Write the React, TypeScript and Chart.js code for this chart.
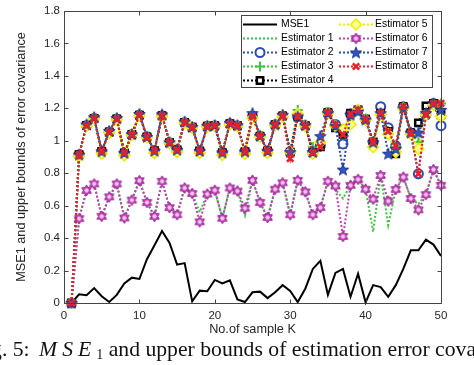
import React, { useEffect, useRef } from 'react';
import { Chart, registerables } from 'chart.js';
import { drawPoint } from 'chart.js/helpers';

Chart.register(...registerables);

// ---------------- data ----------------
const sampleK = [1, 2, 3, 4, 5, 6, 7, 8, 9, 10, 11, 12, 13, 14, 15, 16, 17, 18, 19, 20, 21, 22, 23, 24, 25, 26, 27, 28, 29, 30, 31, 32, 33, 34, 35, 36, 37, 38, 39, 40, 41, 42, 43, 44, 45, 46, 47, 48, 49, 50];

const mse1 = [0, 0.054, 0.048, 0.092, 0.042, 0.006, 0.05, 0.12, 0.156, 0.148, 0.27, 0.356, 0.444, 0.37, 0.236, 0.246, 0.01, 0.076, 0.072, 0.142, 0.12, 0.14, 0.022, 0.006, 0.066, 0.07, 0.03, 0.066, 0.11, 0.075, 0.006, 0.088, 0.21, 0.26, 0.05, 0.185, 0.21, 0.038, 0.18, 0.004, 0.11, 0.098, 0.038, 0.11, 0.21, 0.325, 0.325, 0.39, 0.36, 0.29];

const estimator1 = [0, 0.52, 0.694, 0.734, 0.534, 0.654, 0.734, 0.524, 0.634, 0.754, 0.62, 0.534, 0.75, 0.588, 0.544, 0.709, 0.675, 0.56, 0.671, 0.695, 0.522, 0.709, 0.69, 0.54, 0.756, 0.62, 0.527, 0.701, 0.741, 0.544, 0.756, 0.685, 0.544, 0.588, 0.75, 0.7, 0.644, 0.725, 0.762, 0.701, 0.44, 0.786, 0.48, 0.7, 0.776, 0.644, 0.61, 0.668, 0.822, 0.725];

const estimator2 = [0, 0.914, 1.094, 1.138, 0.934, 1.054, 1.134, 0.924, 1.038, 1.158, 1.024, 0.938, 1.154, 0.988, 0.944, 1.113, 1.083, 0.937, 1.089, 1.093, 0.927, 1.105, 1.093, 0.933, 1.15, 1.028, 0.937, 1.099, 1.153, 0.93, 1.15, 1.093, 0.927, 0.97, 1.174, 1.1, 0.98, 1.165, 1.19, 1.133, 0.992, 1.21, 1.08, 0.968, 1.21, 1.048, 0.796, 1.16, 1.23, 1.093];

const estimator3 = [0, 0.914, 1.094, 1.138, 0.934, 1.054, 1.134, 0.924, 1.038, 1.158, 1.024, 0.938, 1.154, 0.988, 0.944, 1.113, 1.083, 0.937, 1.089, 1.093, 0.927, 1.105, 1.093, 0.933, 1.15, 1.028, 0.937, 1.099, 1.153, 0.93, 1.19, 1.093, 0.96, 0.962, 1.174, 1.1, 1.038, 1.165, 1.19, 1.133, 0.992, 1.17, 1.058, 0.968, 1.21, 1.048, 0.99, 1.16, 1.23, 1.23];

const estimator4 = [0, 0.914, 1.094, 1.138, 0.934, 1.054, 1.134, 0.924, 1.038, 1.158, 1.024, 0.938, 1.154, 0.988, 0.944, 1.113, 1.083, 0.937, 1.089, 1.093, 0.927, 1.105, 1.093, 0.933, 1.15, 1.028, 0.937, 1.099, 1.153, 0.93, 1.15, 1.093, 0.927, 0.962, 1.174, 1.08, 1.04, 1.17, 1.19, 1.133, 0.992, 1.17, 1.058, 0.92, 1.21, 1.048, 1.11, 1.214, 1.23, 1.16];

const estimator5 = [0, 0.905, 1.09, 1.135, 0.92, 1.05, 1.13, 0.91, 1.035, 1.155, 1.02, 0.925, 1.15, 0.985, 0.93, 1.11, 1.08, 0.925, 1.085, 1.09, 0.912, 1.1, 1.09, 0.918, 1.14, 1.025, 0.925, 1.095, 1.15, 0.93, 1.165, 1.09, 0.92, 0.99, 1.17, 1.09, 1.07, 1.1, 1.19, 1.13, 0.96, 1.16, 1.04, 0.93, 1.2, 1.04, 0.95, 1.16, 1.22, 1.15];

const estimator6 = [0, 0.52, 0.694, 0.734, 0.534, 0.654, 0.734, 0.524, 0.634, 0.754, 0.62, 0.534, 0.75, 0.588, 0.544, 0.709, 0.675, 0.5, 0.671, 0.695, 0.522, 0.709, 0.69, 0.584, 0.756, 0.62, 0.527, 0.701, 0.741, 0.544, 0.756, 0.685, 0.544, 0.588, 0.75, 0.721, 0.41, 0.725, 0.762, 0.701, 0.64, 0.786, 0.628, 0.7, 0.776, 0.644, 0.574, 0.668, 0.822, 0.725];

const estimator7 = [0, 0.914, 1.1, 1.145, 0.934, 1.06, 1.14, 0.924, 1.04, 1.165, 1.024, 0.938, 1.162, 0.99, 0.944, 1.118, 1.085, 0.937, 1.092, 1.096, 0.927, 1.11, 1.095, 0.933, 1.17, 1.03, 0.937, 1.1, 1.16, 0.93, 1.15, 1.095, 0.93, 1.028, 1.17, 1.09, 0.822, 1.16, 1.18, 1.13, 0.99, 1.17, 0.92, 0.95, 1.2, 1.05, 1.05, 1.17, 1.23, 1.19];

const estimator8 = [0, 0.914, 1.094, 1.138, 0.934, 1.054, 1.134, 0.924, 1.038, 1.158, 1.024, 0.938, 1.154, 0.988, 0.944, 1.113, 1.083, 0.937, 1.089, 1.093, 0.927, 1.105, 1.093, 0.933, 1.15, 1.028, 0.937, 1.099, 1.153, 0.89, 1.15, 1.093, 0.927, 0.962, 1.174, 1.1, 1.038, 1.165, 1.19, 1.133, 0.992, 1.17, 1.058, 0.968, 1.21, 1.048, 0.796, 1.16, 1.23, 1.23];

const xTicks = [0, 10, 20, 30, 40, 50];
const yTicks = [0, 0.2, 0.4, 0.6, 0.8, 1, 1.2, 1.4, 1.6, 1.8];

const seriesLabels = ['MSE1', 'Estimator 1', 'Estimator 2', 'Estimator 3', 'Estimator 4', 'Estimator 5', 'Estimator 6', 'Estimator 7', 'Estimator 8'];

// ---------------- styles ----------------
const GREEN = '#3cc23c';
const BLUE = '#2a4cb4';
const YELLOW = '#eeee00';
const MAGENTA = '#c040b8';
const RED = '#e8202a';
const AXIS = '#444444';
const TEXT = '#262626';
const SANS = '"Liberation Sans", Arial, Helvetica, sans-serif';

function makeStar(size: number, fill: string, stroke: string) {
  const c = document.createElement('canvas');
  c.width = size; c.height = size;
  const g = c.getContext('2d')!;
  const cx = size / 2, cy = size / 2 + 0.5;
  const R = size / 2 - 1, r = R * 0.42;
  g.beginPath();
  for (let i = 0; i < 10; i++) {
    const a = -Math.PI / 2 + i * Math.PI / 5;
    const rr = i % 2 === 0 ? R : r;
    g.lineTo(cx + rr * Math.cos(a), cy + rr * Math.sin(a));
  }
  g.closePath();
  g.fillStyle = fill; g.fill();
  g.strokeStyle = stroke; g.lineWidth = 1; g.stroke();
  return c;
}

function makeHexagram(size: number, fill: string, stroke: string, inner: string) {
  const c = document.createElement('canvas');
  c.width = size; c.height = size;
  const g = c.getContext('2d')!;
  const cx = size / 2, cy = size / 2;
  const R = size / 2 - 1, r = R / Math.sqrt(3);
  g.beginPath();
  for (let i = 0; i < 12; i++) {
    const a = -Math.PI / 2 + i * Math.PI / 6;
    const rr = i % 2 === 0 ? R : r;
    g.lineTo(cx + rr * Math.cos(a), cy + rr * Math.sin(a));
  }
  g.closePath();
  g.fillStyle = fill; g.fill();
  g.strokeStyle = stroke; g.lineWidth = 1; g.stroke();
  g.beginPath();
  const ri = r * 0.75;
  for (let i = 0; i < 6; i++) {
    const a = i * Math.PI / 3;
    g.lineTo(cx + ri * Math.cos(a), cy + ri * Math.sin(a));
  }
  g.closePath();
  g.fillStyle = inner; g.fill();
  return c;
}

function toPts(vals: number[]) {
  return sampleK.map((k, i) => ({ x: k, y: vals[i] }));
}

export default function App() {
  const ref = useRef<HTMLCanvasElement | null>(null);

  useEffect(() => {
    if (!ref.current) return;
    const star = makeStar(14, '#3355c4', '#1c2f88');
    const hexa = makeHexagram(13, MAGENTA, '#9a2a90', '#f2c4ee');

    const dash = [2, 2];
    const styles: any[] = [
      { color: '#000', dash: [], width: 2, marker: null },
      { color: GREEN, dash, width: 2, marker: null },
      { color: BLUE, dash, width: 2, marker: { style: 'circle', radius: 4.5, bw: 2, fill: '#ffffff', stroke: BLUE } },
      { color: GREEN, dash, width: 2, marker: { style: 'cross', radius: 5, bw: 2, fill: GREEN, stroke: GREEN } },
      { color: '#000', dash, width: 2, marker: { style: 'rect', radius: 4.5, bw: 2.5, fill: '#ffffff', stroke: '#000' } },
      { color: YELLOW, dash, width: 2, marker: { style: 'rectRot', radius: 5.5, bw: 1.5, fill: '#ffff90', stroke: YELLOW } },
      { color: MAGENTA, dash, width: 2, marker: { style: hexa, radius: 6, bw: 1, fill: MAGENTA, stroke: MAGENTA } },
      { color: BLUE, dash, width: 2, marker: { style: star, radius: 6, bw: 1, fill: BLUE, stroke: BLUE } },
      { color: RED, dash, width: 2, marker: { style: 'crossRot', radius: 4.5, bw: 2.5, fill: RED, stroke: RED } },
    ];
    const values = [mse1, estimator1, estimator2, estimator3, estimator4, estimator5, estimator6, estimator7, estimator8];

    const datasets = values.map((v, i) => {
      const s = styles[i];
      return {
        label: seriesLabels[i],
        data: toPts(v),
        borderColor: s.color,
        borderWidth: s.width,
        borderDash: s.dash,
        tension: 0,
        fill: false,
        clip: false as any,
        order: 10 - i,
        pointRadius: s.marker ? s.marker.radius : 0,
        pointHoverRadius: s.marker ? s.marker.radius : 0,
        pointStyle: s.marker ? s.marker.style : 'circle',
        pointBackgroundColor: s.marker ? s.marker.fill : s.color,
        pointBorderColor: s.marker ? s.marker.stroke : s.color,
        pointBorderWidth: s.marker ? s.marker.bw : 0,
      };
    });

    const boxPlugin = {
      id: 'matlabBox',
      afterDatasetsDraw(chart: any) {
        const { ctx, chartArea, scales } = chart;
        const L = Math.round(chartArea.left) + 0.5;
        const R = Math.round(chartArea.right) + 0.5;
        const T = Math.round(chartArea.top) + 0.5;
        const B = Math.round(chartArea.bottom) + 0.5;
        ctx.save();
        ctx.setLineDash([]);
        ctx.strokeStyle = AXIS;
        ctx.lineWidth = 1;
        ctx.strokeRect(L, T, R - L, B - T);
        ctx.beginPath();
        xTicks.forEach((v) => {
          const px = Math.round(scales.x.getPixelForValue(v)) + 0.5;
          ctx.moveTo(px, B); ctx.lineTo(px, B - 4);
          ctx.moveTo(px, T); ctx.lineTo(px, T + 4);
        });
        yTicks.forEach((v) => {
          const py = Math.round(scales.y.getPixelForValue(v)) + 0.5;
          ctx.moveTo(L, py); ctx.lineTo(L + 4, py);
          ctx.moveTo(R, py); ctx.lineTo(R - 4, py);
        });
        ctx.stroke();
        ctx.restore();
      },
    };

    const legendPlugin = {
      id: 'matlabLegend',
      afterDraw(chart: any) {
        const { ctx } = chart;
        ctx.save();
        const bx = 241.5, by = 15.5, bw = 191, bh = 72;
        ctx.fillStyle = '#ffffff';
        ctx.fillRect(bx, by, bw, bh);
        ctx.setLineDash([]);
        ctx.strokeStyle = AXIS;
        ctx.lineWidth = 1;
        ctx.strokeRect(bx, by, bw, bh);
        const rowY = [24, 38, 52, 66, 80];
        const cols = [
          { x1: 243, x2: 277, tx: 281, items: [0, 1, 2, 3, 4] },
          { x1: 339, x2: 373, tx: 375, items: [5, 6, 7, 8] },
        ];
        ctx.font = `10.4px ${SANS}`;
        ctx.textBaseline = 'middle';
        ctx.textAlign = 'left';
        cols.forEach((col) => {
          col.items.forEach((idx, r) => {
            const s = styles[idx];
            const y = rowY[r];
            ctx.strokeStyle = s.color;
            ctx.lineWidth = s.width;
            ctx.setLineDash(s.dash);
            ctx.beginPath();
            ctx.moveTo(col.x1, y + 0.5);
            ctx.lineTo(col.x2, y + 0.5);
            ctx.stroke();
            ctx.setLineDash([]);
            if (s.marker) {
              ctx.fillStyle = s.marker.fill;
              ctx.strokeStyle = s.marker.stroke;
              ctx.lineWidth = s.marker.bw;
              drawPoint(ctx, { pointStyle: s.marker.style, radius: s.marker.radius, borderWidth: s.marker.bw, rotation: 0 } as any, (col.x1 + col.x2) / 2, y + 0.5);
            }
            ctx.fillStyle = '#000';
            ctx.fillText(seriesLabels[idx], col.tx, y + 0.5);
          });
        });
        ctx.restore();
      },
    };

    const chart = new Chart(ref.current, {
      type: 'line',
      data: { datasets: datasets as any },
      options: {
        animation: false,
        responsive: false,
        maintainAspectRatio: false,
        layout: { padding: { left: 0, right: 33, top: 6, bottom: 0 } },
        plugins: { legend: { display: false }, tooltip: { enabled: false } },
        events: [],
        scales: {
          x: {
            type: 'linear',
            min: 0,
            max: 50,
            afterFit: (s: any) => { s.height = 62; },
            afterBuildTicks: (s: any) => { s.ticks = xTicks.map((v) => ({ value: v })); },
            grid: { display: false, drawTicks: false },
            border: { display: false },
            ticks: { padding: 6, color: TEXT, font: { family: SANS, size: 11.5 }, maxRotation: 0, callback: (v: any) => String(v) },
            title: { display: true, text: 'No.of sample K', color: TEXT, font: { family: SANS, size: 12.7 }, padding: { top: 0, bottom: 28 } },
          },
          y: {
            type: 'linear',
            min: 0,
            max: 1.8,
            afterFit: (s: any) => { s.width = 64; },
            afterBuildTicks: (s: any) => { s.ticks = yTicks.map((v) => ({ value: v })); },
            grid: { display: false, drawTicks: false },
            border: { display: false },
            ticks: { padding: 4, color: TEXT, font: { family: SANS, size: 11.5 }, callback: (v: any) => String(Math.round(Number(v) * 10) / 10) },
            title: { display: true, text: 'MSE1 and upper bounds of error covariance', color: TEXT, font: { family: SANS, size: 12.7 }, padding: { top: 14, bottom: 0 } },
          },
        },
      },
      plugins: [boxPlugin, legendPlugin],
    } as any);
    return () => chart.destroy();
  }, []);

  return (
    <div style={{ position: 'fixed', left: 0, top: 0, width: 474, height: 365, overflow: 'hidden', background: '#fff' }}>
      <canvas ref={ref} width={474} height={365} style={{ position: 'absolute', left: 0, top: 0, width: 474, height: 365 }} />
      <div style={{ position: 'absolute', left: -27, top: 337, fontFamily: '"Liberation Serif", "Times New Roman", serif', fontSize: 21.7, whiteSpace: 'nowrap', color: '#111', lineHeight: 'normal' }}>
        Fig. 5: <span style={{ marginLeft: 4 }}><i style={{ letterSpacing: 5 }}>MSE</i><sub style={{ fontSize: 14, verticalAlign: '-3px' }}>1</sub></span> and upper bounds of estimation error covariance
      </div>
    </div>
  );
}
